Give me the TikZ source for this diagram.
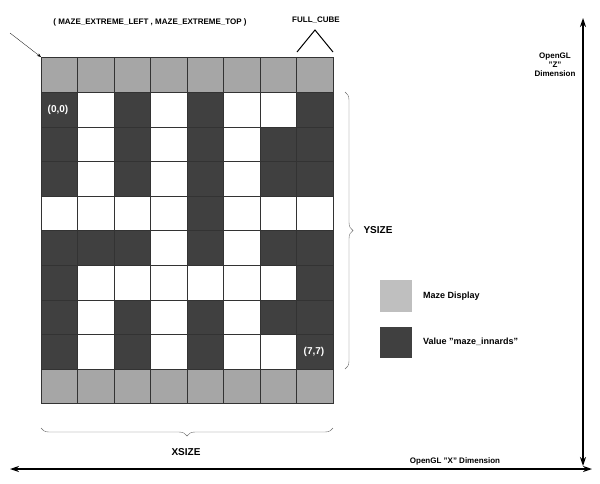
\documentclass[tikz,border=0pt]{standalone}
\usepackage{fontspec}
\setmainfont{Liberation Sans}
\usetikzlibrary{decorations.pathreplacing,arrows.meta}
\definecolor{gry}{HTML}{A6A6A6}
\definecolor{drk}{HTML}{404040}
\definecolor{lgry}{HTML}{BFBFBF}
\begin{document}
\begin{tikzpicture}[x=1pt,y=-1pt,
  lbl/.style={font=\bfseries\fontsize{8}{9}\selectfont,inner sep=1pt},
  big/.style={font=\bfseries\fontsize{10}{12}\selectfont,inner sep=1pt},
  cell/.style={draw=black!80,line width=0.5pt},
  brc/.style={decorate,decoration={brace,amplitude=8pt},draw=black!60,line width=0.4pt}]
\useasboundingbox (0,0) rectangle (600,483);
\def\cw{36.5}\def\ch{34.6}
% gray rows
\foreach \c in {0,...,7}{
  \fill[gry,cell] (41+\c*\cw,57) rectangle ++(\cw,35.3);
  \fill[gry,cell] (41+\c*\cw,369) rectangle ++(\cw,34);
}
\foreach [count=\r from 0] \row in {
 {1,0,1,0,1,0,0,1},{1,0,1,0,1,0,1,1},{1,0,1,0,1,0,1,1},{0,0,0,0,1,0,0,0},
 {1,1,1,0,1,0,1,1},{1,0,0,0,0,0,0,1},{1,0,1,0,1,0,1,1},{1,0,1,0,1,0,0,1}}{
  \foreach [count=\c from 0] \v in \row {
    \ifnum\v=1 \def\fc{drk}\else\def\fc{white}\fi
    \filldraw[fill=\fc,cell] (41+\c*\cw,92.3+\r*\ch) rectangle ++(\cw,\ch);
  }
}
\node[lbl,text=white,font=\bfseries\fontsize{10}{12}\selectfont] (o) at (58,110) {(0,0)};
\node[lbl,text=white,font=\bfseries\fontsize{10}{12}\selectfont] (s) at (314,352) {(7,7)};
% top labels
\node[lbl] (tl) at (150,22) {( MAZE\_EXTREME\_LEFT , MAZE\_EXTREME\_TOP )};
\coordinate (tc) at (41,57);
\draw[-{Stealth[length=4pt]},line width=0.3pt] (10,33) -- (tc);
\node[lbl] (fc) at (316,20) {FULL\_CUBE};
\coordinate (f1) at (297,52);\coordinate (f2) at (315,30);\coordinate (f3) at (333,52);
\draw[line width=1pt] (f1) -- (f2) -- (f3);
% braces
\coordinate (ya) at (345,92);\coordinate (yb) at (345,369);
\draw[brc] (ya) -- (yb);
\node[big] (ys) at (378,230) {YSIZE};
\coordinate (xa) at (333,428);\coordinate (xb) at (41,428);
\draw[brc] (xa) -- (xb);
\node[big] (xs) at (186,452) {XSIZE};
% legend
\fill[lgry] (380,280) rectangle (412,312);
\node[lbl,anchor=west,font=\bfseries\fontsize{9}{11}\selectfont] (m1) at (422,296) {Maze Display};
\fill[drk] (380,327) rectangle (412,358);
\node[lbl,anchor=west,font=\bfseries\fontsize{9}{11}\selectfont] (m2) at (422,342) {Value "maze\_innards"};
% axes
\coordinate (h1) at (10,469);\coordinate (h2) at (592,469);
\draw[{Stealth[length=9pt,width=6pt]}-{Stealth[length=9pt,width=6pt]},line width=1.3pt] (h1) -- (h2);
\node[lbl] (xl) at (455,461) {OpenGL "X" Dimension};
\coordinate (v1) at (583,18);\coordinate (v2) at (583,466);
\draw[{Stealth[length=9pt,width=6pt]}-{Stealth[length=9pt,width=6pt]},line width=1.3pt] (v1) -- (v2);
\node[lbl,align=center] (zl) at (555,65) {OpenGL\\"Z"\\Dimension};
\end{tikzpicture}
\end{document}
